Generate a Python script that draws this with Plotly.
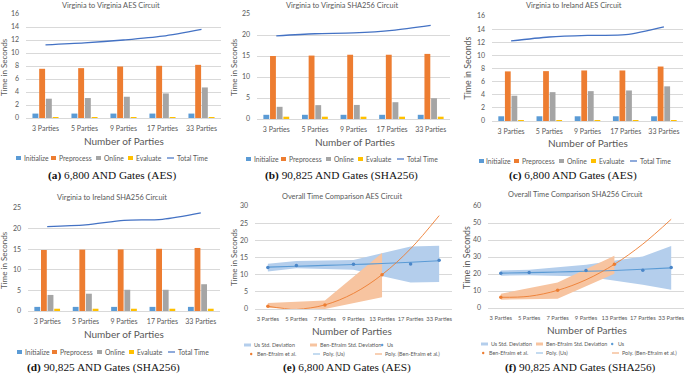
import plotly.graph_objects as go

W, H = 685, 376


def fx(x):
    return x / W


def fy(y):
    return 1 - y / H


# ---------------- data ----------------
parties5 = ["3 Parties", "5 Parties", "9 Parties", "17 Parties", "33 Parties"]
parties7 = ["3 Parties", "5 Parties", "7 Parties", "9 Parties", "13 Parties", "17 Parties", "33 Parties"]
bar_names = ["Initialize", "Preprocess", "Online", "Evaluate"]
total_name = "Total Time"

# (a) Virginia to Virginia AES
a_init = [0.68, 0.68, 0.68, 0.68, 0.68]
a_pre = [7.57, 7.67, 7.92, 8.03, 8.18]
a_onl = [2.97, 3.07, 3.27, 3.78, 4.70]
a_eval = [0.08, 0.08, 0.08, 0.08, 0.08]
a_total = [11.25, 11.55, 12.0, 12.6, 13.65]

# (b) Virginia to Virginia SHA256
b_init = [1.0, 1.0, 1.0, 1.0, 1.0]
b_pre = [15.0, 15.1, 15.3, 15.3, 15.5]
b_onl = [2.9, 3.3, 3.35, 4.0, 4.95]
b_eval = [0.55, 0.55, 0.55, 0.55, 0.55]
b_total = [19.8, 20.3, 20.5, 21.1, 22.3]

# (c) Virginia to Ireland AES
c_init = [0.72, 0.72, 0.72, 0.72, 0.72]
c_pre = [7.56, 7.6, 7.7, 7.7, 8.3]
c_onl = [3.85, 4.4, 4.55, 4.65, 5.28]
c_eval = [0.1, 0.1, 0.1, 0.1, 0.1]
c_total = [12.2, 12.8, 13.05, 13.15, 14.35]

# (d) Virginia to Ireland SHA256
d_init = [1.0, 1.0, 1.0, 1.0, 1.0]
d_pre = [14.8, 14.9, 14.95, 15.1, 15.3]
d_onl = [3.9, 4.2, 5.15, 5.15, 6.5]
d_eval = [0.55, 0.55, 0.55, 0.55, 0.55]
d_total = [20.5, 20.9, 22.0, 22.25, 23.8]

# comparison panels
us_parties = ["3 Parties", "5 Parties", "9 Parties", "17 Parties", "33 Parties"]
be_parties = ["3 Parties", "7 Parties", "13 Parties"]
cmp_names = ["Us Std. Deviation", "Ben-Efraim Std. Deviation", "Us",
             "Ben-Efraim et al.", "Poly. (Us)", "Poly. (Ben-Efraim et al.)"]

# (e) AES
e_us = [12.1, 12.7, 13.0, 13.1, 14.2]
e_us_lo = [10.9, 11.9, 11.4, 7.7, 7.9]
e_us_hi = [13.2, 14.0, 14.3, 18.2, 18.4]
e_be = [0.8, 1.2, 10.0]
e_be_lo = [0.3, 0.0, 3.4]
e_be_hi = [1.75, 2.5, 16.3]
e_us_poly = [12.2, 12.45, 12.7, 12.95, 13.25, 13.6, 14.05]
e_be_poly = [0.8, -0.05, 1.2, 4.55, 10.0, 17.55, 27.2]

# (f) SHA256
f_us = [20.5, 20.9, 22.0, 22.2, 23.8]
f_us_lo = [19.0, 19.3, 18.6, 13.7, 10.7]
f_us_hi = [22.1, 22.5, 25.4, 30.3, 36.5]
f_be = [6.3, 10.4, 25.7]
f_be_lo = [4.9, 5.5, 20.1]
f_be_hi = [8.4, 15.0, 30.7]
f_us_poly = [20.5, 20.8, 21.2, 21.6, 22.1, 22.8, 23.6]
f_be_poly = [6.3, 6.9, 10.4, 16.6, 25.7, 37.6, 52.2]

titles = ["Virginia to Virginia AES Circuit", "Virginia to Virginia SHA256 Circuit",
          "Virginia to Ireland AES Circuit", "Virginia to Ireland SHA256 Circuit",
          "Overall Time Comparison AES Circuit", "Overall Time Comparison SHA256 Circuit"]
cap_labels = ["(a)", "(b)", "(c)", "(d)", "(e)", "(f)"]
cap_texts = ["6,800 AND Gates (AES)", "90,825 AND Gates (SHA256)",
             "6,800 AND Gates (AES)", "90,825 AND Gates (SHA256)",
             "6,800 AND Gates (AES)", "90,825 AND Gates (SHA256)"]
x_title = "Number of Parties"
y_title = "Time in Seconds"

# ---------------- style ----------------
FONT = "Lato"
TXT = "#595959"
GRID = "#D9D9D9"
BAR_COLORS = ["#5B9BD5", "#ED7D31", "#A5A5A5", "#FFC000"]
TOTAL_COLOR = "#4472C4"
BLUE = "#5B9BD5"
ORANGE = "#ED7D31"
BLUE_FILL = "#B4CEEC"
ORANGE_FILL = "#F7C4A0"

# panel geometry in pixels
panels = [
    dict(x0=26, x1=221, y0=14, y1=118, ymax=16, dtick=2, cats=parties5, tfs=7, yfs=8,
         tx=111, ty=5, ntx=124, nty=141, ytx=4, yty=67, capx=112, capy=175),
    dict(x0=257, x1=450, y0=14, y1=119, ymax=25, dtick=5, cats=parties5, tfs=7, yfs=8,
         tx=342, ty=5, ntx=355, nty=142.5, ytx=233.5, yty=67.5, capx=341, capy=175),
    dict(x0=492, x1=683, y0=16, y1=121, ymax=16, dtick=2, cats=parties5, tfs=7, yfs=8.8,
         tx=573.5, ty=5, ntx=587.5, nty=143, ytx=466.5, yty=68, capx=572.5, capy=175),
    dict(x0=28, x1=220, y0=208, y1=311, ymax=25, dtick=5, cats=parties5, tfs=7, yfs=8,
         tx=111.5, ty=197.5, ntx=124, nty=334, ytx=4, yty=260, capx=103, capy=367),
    dict(x0=255, x1=452, y0=206, y1=309, ymax=30, dtick=5, cats=parties7, tfs=5.8, yfs=8,
         tx=342, ty=196, ntx=352, nty=330.5, ytx=233.5, yty=257.5, capx=347, capy=367),
    dict(x0=488, x1=684, y0=206, y1=308, ymax=60, dtick=10, cats=parties7, tfs=5.8, yfs=8.8,
         tx=575, ty=195, ntx=586.5, nty=329.5, ytx=466, yty=258, capx=580, capy=367),
]

fig = go.Figure()

# ---------------- bar panels ----------------
bar_data = [
    ([a_init, a_pre, a_onl, a_eval], a_total),
    ([b_init, b_pre, b_onl, b_eval], b_total),
    ([c_init, c_pre, c_onl, c_eval], c_total),
    ([d_init, d_pre, d_onl, d_eval], d_total),
]
for i, (vals, tot) in enumerate(bar_data):
    sfx = "" if i == 0 else str(i + 1)
    for name, v, col in zip(bar_names, vals, BAR_COLORS):
        fig.add_trace(go.Bar(x=parties5, y=v, name=name, marker_color=col,
                             marker_line_width=0, xaxis="x" + sfx, yaxis="y" + sfx,
                             showlegend=False))
    fig.add_trace(go.Scatter(x=parties5, y=tot, name=total_name, mode="lines",
                             line=dict(color=TOTAL_COLOR, width=1.3, shape="spline", smoothing=0.8),
                             xaxis="x" + sfx, yaxis="y" + sfx, showlegend=False))

# ---------------- comparison panels ----------------
cmp_data = [
    (e_us, e_us_lo, e_us_hi, e_be, e_be_lo, e_be_hi, e_us_poly, e_be_poly),
    (f_us, f_us_lo, f_us_hi, f_be, f_be_lo, f_be_hi, f_us_poly, f_be_poly),
]
for j, (us, us_lo, us_hi, be, be_lo, be_hi, us_poly, be_poly) in enumerate(cmp_data):
    sfx = str(j + 5)
    xa, ya = "x" + sfx, "y" + sfx
    fig.add_trace(go.Scatter(x=us_parties, y=us_lo, mode="lines", line=dict(width=0, color=BLUE_FILL),
                             xaxis=xa, yaxis=ya, showlegend=False, hoverinfo="skip"))
    fig.add_trace(go.Scatter(x=us_parties, y=us_hi, mode="lines", name=cmp_names[0],
                             line=dict(width=0, color=BLUE_FILL), fill="tonexty", fillcolor=BLUE_FILL,
                             xaxis=xa, yaxis=ya, showlegend=False))
    fig.add_trace(go.Scatter(x=be_parties, y=be_lo, mode="lines", line=dict(width=0, color=ORANGE_FILL),
                             xaxis=xa, yaxis=ya, showlegend=False, hoverinfo="skip"))
    fig.add_trace(go.Scatter(x=be_parties, y=be_hi, mode="lines", name=cmp_names[1],
                             line=dict(width=0, color=ORANGE_FILL), fill="tonexty", fillcolor=ORANGE_FILL,
                             xaxis=xa, yaxis=ya, showlegend=False))
    fig.add_trace(go.Scatter(x=parties7, y=us_poly, mode="lines", name=cmp_names[4],
                             line=dict(color=BLUE, width=1.1, shape="spline", smoothing=1),
                             xaxis=xa, yaxis=ya, showlegend=False))
    fig.add_trace(go.Scatter(x=parties7, y=be_poly, mode="lines", name=cmp_names[5],
                             line=dict(color=ORANGE, width=0.9, shape="spline", smoothing=1),
                             xaxis=xa, yaxis=ya, showlegend=False))
    fig.add_trace(go.Scatter(x=us_parties, y=us, mode="markers", name=cmp_names[2],
                             marker=dict(color="#4A86C8", size=3.5),
                             xaxis=xa, yaxis=ya, showlegend=False))
    fig.add_trace(go.Scatter(x=be_parties, y=be, mode="markers", name=cmp_names[3],
                             marker=dict(color=ORANGE, size=3.5),
                             xaxis=xa, yaxis=ya, showlegend=False))

# ---------------- axes ----------------
axes = {}
annotations = []
for i, p in enumerate(panels):
    sfx = "" if i == 0 else str(i + 1)
    axes["xaxis" + sfx] = dict(
        domain=[fx(p["x0"]), fx(p["x1"])], anchor="y" + sfx, type="category",
        categoryorder="array", categoryarray=p["cats"], showgrid=False,
        showline=True, linecolor=GRID, linewidth=1, zeroline=False,
        ticks="", ticklabelstandoff=4, tickangle=0, automargin=False, fixedrange=True,
        tickfont=dict(family=FONT, size=p["tfs"], color=TXT))
    axes["yaxis" + sfx] = dict(
        domain=[fy(p["y1"]), fy(p["y0"])], anchor="x" + sfx, range=[0, p["ymax"]],
        tick0=0, dtick=p["dtick"], showgrid=True, gridcolor=GRID, gridwidth=1,
        zeroline=False, showline=False, ticks="", ticklabelstandoff=6,
        automargin=False, fixedrange=True,
        tickfont=dict(family=FONT, size=7, color=TXT))
    annotations.append(dict(text=titles[i], x=fx(p["tx"]), y=fy(p["ty"]), xref="paper", yref="paper",
                            showarrow=False, xanchor="center", yanchor="middle",
                            font=dict(family=FONT, size=7.4, color=TXT)))
    annotations.append(dict(text=x_title, x=fx(p["ntx"]), y=fy(p["nty"]), xref="paper", yref="paper",
                            showarrow=False, xanchor="center", yanchor="middle",
                            font=dict(family=FONT, size=10, color=TXT)))
    annotations.append(dict(text=y_title, x=fx(p["ytx"]), y=fy(p["yty"]), xref="paper", yref="paper",
                            showarrow=False, xanchor="center", yanchor="middle", textangle=-90,
                            font=dict(family=FONT, size=p["yfs"], color=TXT)))
    annotations.append(dict(text="<b>" + cap_labels[i] + "</b> " + cap_texts[i],
                            x=fx(p["capx"]), y=fy(p["capy"]), xref="paper", yref="paper",
                            showarrow=False, xanchor="center", yanchor="middle",
                            font=dict(family="Liberation Serif", size=11.3, color="#111111")))

# ---------------- custom legends ----------------
shapes = []


def legend_item(x, y, kind, color, text, fs, rw=5, rh=4):
    if kind == "rect":
        shapes.append(dict(type="rect", xref="paper", yref="paper",
                           x0=fx(x), x1=fx(x + rw), y0=fy(y + rh / 2), y1=fy(y - rh / 2),
                           fillcolor=color, line=dict(width=0)))
        tx = x + rw + 0.5
    elif kind == "line":
        shapes.append(dict(type="line", xref="paper", yref="paper",
                           x0=fx(x), x1=fx(x + 7), y0=fy(y), y1=fy(y),
                           line=dict(color=color, width=1.2)))
        tx = x + 7.5
    else:
        shapes.append(dict(type="circle", xref="paper", yref="paper",
                           x0=fx(x), x1=fx(x + 2.4), y0=fy(y + 1.2), y1=fy(y - 1.2),
                           fillcolor=color, line=dict(width=0)))
        tx = x + 4.5
    annotations.append(dict(text=text, x=fx(tx), y=fy(y), xref="paper", yref="paper",
                            showarrow=False, xanchor="left", yanchor="middle",
                            font=dict(family=FONT, size=fs, color=TXT)))


leg_steps = [0, 35, 80, 112, 151]
bar_leg = [(16, 158), (246, 159), (479, 161), (17, 352)]
for x0, y in bar_leg:
    xs = [x0 + s for s in leg_steps]
    for k in range(4):
        legend_item(xs[k], y, "rect", BAR_COLORS[k], bar_names[k], 6.8)
    legend_item(xs[4], y, "line", TOTAL_COLOR, total_name, 6.8)

cmp_leg = [
    (([244, 310, 381], 345), ([250, 313, 375], 354)),
    (([481, 536, 611], 344), ([482, 536, 612], 353)),
]
for (r1x, r1y), (r2x, r2y) in cmp_leg:
    legend_item(r1x[0], r1y, "rect", BLUE_FILL, cmp_names[0], 5.4, rw=7, rh=3)
    legend_item(r1x[1], r1y, "rect", ORANGE_FILL, cmp_names[1], 5.4, rw=7, rh=3)
    legend_item(r1x[2], r1y, "dot", BLUE, cmp_names[2], 5.4)
    legend_item(r2x[0], r2y, "dot", ORANGE, cmp_names[3], 5.4)
    legend_item(r2x[1], r2y, "line", "#9DC3E6", cmp_names[4], 5.4)
    legend_item(r2x[2], r2y, "line", "#F4B183", cmp_names[5], 5.4)

fig.update_layout(
    width=W, height=H, margin=dict(l=0, r=0, t=0, b=0),
    paper_bgcolor="white", plot_bgcolor="white",
    barmode="group", bargap=0.31, bargroupgap=0.12,
    showlegend=False, annotations=annotations, shapes=shapes,
    font=dict(family=FONT, color=TXT),
    **axes,
)

fig.write_html("out.html", config={"displayModeBar": False},
               post_script="document.body.style.margin='0';")
